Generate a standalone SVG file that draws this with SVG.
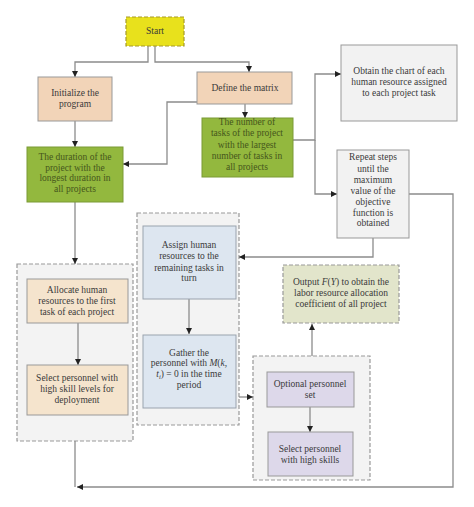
<svg xmlns="http://www.w3.org/2000/svg" width="474" height="507" viewBox="0 0 474 507">
<style>
text{font-family:"Liberation Serif","Times New Roman",serif;font-size:9.5px;fill:#3a3a3a;text-anchor:middle}
.g text{fill:#45561c}
.c{fill:none;stroke:#8c8c8c;stroke-width:1.3}
.grp{fill:#f3f3f3;stroke:#999;stroke-width:1.2;stroke-dasharray:4 2}
.tan{fill:#f2d4b8;stroke:#999;stroke-width:1}
.tan2{fill:#f5e4cd;stroke:#999;stroke-width:1}
.grn{fill:#93b83e;stroke:#7a9a35;stroke-width:1}
.gry{fill:#f2f2f2;stroke:#999;stroke-width:1}
.blu{fill:#dde6f0;stroke:#9aa3ae;stroke-width:1}
.pur{fill:#ddd8ea;stroke:#999;stroke-width:1}
.out{fill:#e2e5cb;stroke:#999;stroke-width:1.2;stroke-dasharray:4 2}
</style>
<defs>
<marker id="a" viewBox="0 0 10 10" refX="10" refY="5" markerWidth="6" markerHeight="6" orient="auto" markerUnits="userSpaceOnUse"><path d="M0,0L10,5L0,10z" fill="#222"/></marker>
</defs>
<rect width="474" height="507" fill="#fff"/>
<g id="group-left"><rect class="grp" x="17" y="264" width="116" height="177"/></g>
<g id="group-mid"><rect class="grp" x="137" y="213" width="102" height="212"/></g>
<g id="group-right"><rect class="grp" x="253" y="356" width="117" height="124"/></g>
<g id="connectors">
<path class="c" d="M148,46V62H75V77" marker-end="url(#a)"/>
<path class="c" d="M155,46V62H249V72" marker-end="url(#a)"/>
<path class="c" d="M75,121V147" marker-end="url(#a)"/>
<path class="c" d="M197,102H167V164H123" marker-end="url(#a)"/>
<path class="c" d="M245,104V118" marker-end="url(#a)"/>
<path class="c" d="M293,140H315V74H341" marker-end="url(#a)"/>
<path class="c" d="M315,140V194H337" marker-end="url(#a)"/>
<path class="c" d="M409,194H453V487H77" marker-end="url(#a)"/>
<path class="c" d="M75,441V487"/>
<path class="c" d="M373,238V257H239" marker-end="url(#a)"/>
<path class="c" d="M75,202V264" marker-end="url(#a)"/>
<path class="c" d="M78,323V365" marker-end="url(#a)"/>
<path class="c" d="M189,299V334" marker-end="url(#a)"/>
<path class="c" d="M239,397H253" marker-end="url(#a)"/>
<path class="c" d="M310,407V432" marker-end="url(#a)"/>
<path class="c" d="M312,356V324" marker-end="url(#a)"/>
</g>
<g id="start"><rect x="126" y="17" width="58" height="29" fill="#e8e11c" stroke="#a59a2a" stroke-width="1.2" stroke-dasharray="4 2"/><text x="155" y="34">Start</text></g>
<g id="init"><rect class="tan" x="38" y="77" width="74" height="44"/><text x="75" y="96">Initialize the</text><text x="75" y="107">program</text></g>
<g id="define"><rect class="tan" x="197" y="72" width="95" height="32"/><text x="245" y="91">Define the matrix</text></g>
<g id="duration" class="g"><rect class="grn" x="27" y="147" width="96" height="55"/><text x="75" y="160">The duration of the</text><text x="75" y="171">project with the</text><text x="75" y="181">longest duration in</text><text x="75" y="192">all projects</text></g>
<g id="number" class="g"><rect class="grn" x="202" y="118" width="91" height="59"/><text x="247" y="125">The number of</text><text x="247" y="136">tasks of the project</text><text x="247" y="148">with the largest</text><text x="247" y="159">number of tasks in</text><text x="247" y="170">all projects</text></g>
<g id="obtain"><rect class="gry" x="341" y="45" width="116" height="76"/><text x="399" y="74">Obtain the chart of each</text><text x="399" y="85">human resource assigned</text><text x="399" y="96">to each project task</text></g>
<g id="repeat"><rect class="gry" x="337" y="150" width="72" height="88"/><text x="373" y="160">Repeat steps</text><text x="373" y="172">until the</text><text x="373" y="183">maximum</text><text x="373" y="194">value of the</text><text x="373" y="205">objective</text><text x="373" y="216">function is</text><text x="373" y="226">obtained</text></g>
<g id="assign"><rect class="blu" x="143" y="226" width="93" height="73"/><text x="189" y="248">Assign human</text><text x="189" y="259">resources to the</text><text x="189" y="271">remaining tasks in</text><text x="189" y="281">turn</text></g>
<g id="gather"><rect class="blu" x="143" y="335" width="93" height="73"/><text x="189" y="356">Gather the</text><text x="189" y="366">personnel with <tspan font-style="italic">M</tspan>(<tspan font-style="italic">k</tspan>,</text><text x="189" y="377"><tspan font-style="italic">t</tspan><tspan font-style="italic" font-size="6.5" dy="2">i</tspan><tspan dy="-2">) = 0 in the time</tspan></text><text x="189" y="388">period</text></g>
<g id="allocate"><rect class="tan2" x="27" y="279" width="101" height="44"/><text x="77" y="293">Allocate human</text><text x="77" y="304">resources to the first</text><text x="77" y="315">task of each project</text></g>
<g id="select1"><rect class="tan2" x="27" y="365" width="101" height="50"/><text x="77" y="381">Select personnel with</text><text x="77" y="392">high skill levels for</text><text x="77" y="403">deployment</text></g>
<g id="output"><rect class="out" x="283" y="265" width="116" height="58"/><text x="341" y="285">Output <tspan font-style="italic">F</tspan>(<tspan font-style="italic">Y</tspan>) to obtain the</text><text x="341" y="296">labor resource allocation</text><text x="341" y="307">coefficient of all project</text></g>
<g id="optional"><rect class="pur" x="267" y="372" width="87" height="35"/><text x="310" y="387">Optional personnel</text><text x="310" y="398">set</text></g>
<g id="select2"><rect class="pur" x="268" y="432" width="85" height="44"/><text x="310" y="452">Select personnel</text><text x="310" y="463">with high skills</text></g>
</svg>
